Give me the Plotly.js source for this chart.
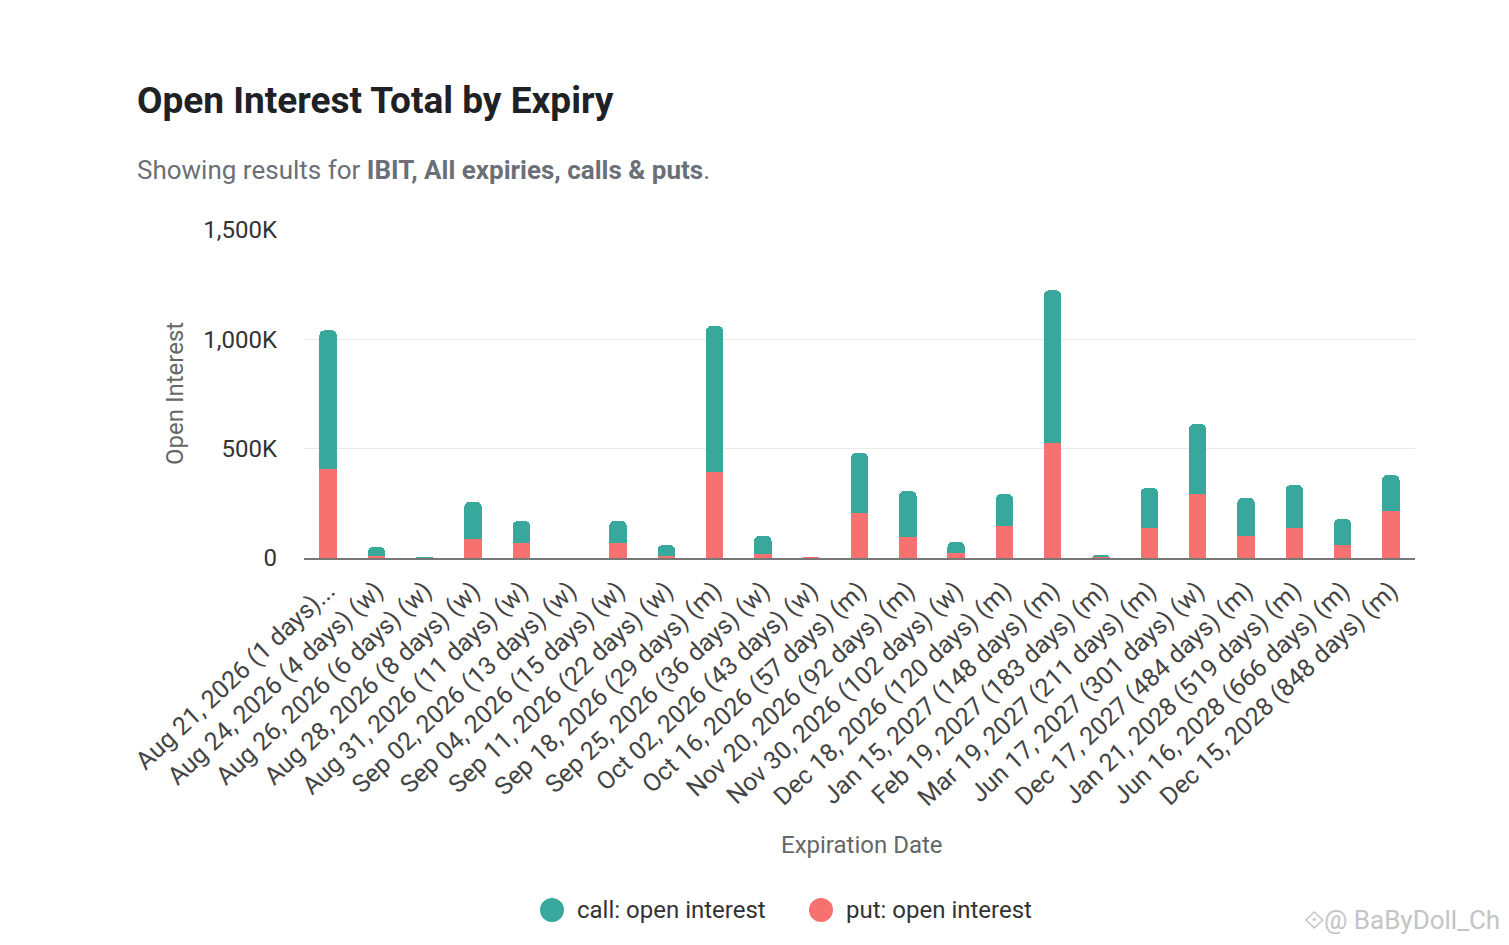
<!DOCTYPE html>
<html>
<head>
<meta charset="utf-8">
<script src="https://cdn.plot.ly/plotly-3.0.1.min.js"></script>
<style>html,body{margin:0;padding:0;background:#fff;}#chart{width:1509px;height:945px;}</style>
</head>
<body>
<div id="chart"></div>
<script>
const categories = [
  "Aug 21, 2026 (1 days)...", "Aug 24, 2026 (4 days) (w)", "Aug 26, 2026 (6 days) (w)",
  "Aug 28, 2026 (8 days) (w)", "Aug 31, 2026 (11 days) (w)", "Sep 02, 2026 (13 days) (w)",
  "Sep 04, 2026 (15 days) (w)", "Sep 11, 2026 (22 days) (w)", "Sep 18, 2026 (29 days) (m)",
  "Sep 25, 2026 (36 days) (w)", "Oct 02, 2026 (43 days) (w)", "Oct 16, 2026 (57 days) (m)",
  "Nov 20, 2026 (92 days) (m)", "Nov 30, 2026 (102 days) (w)", "Dec 18, 2026 (120 days) (m)",
  "Jan 15, 2027 (148 days) (m)", "Feb 19, 2027 (183 days) (m)", "Mar 19, 2027 (211 days) (m)",
  "Jun 17, 2027 (301 days) (w)", "Dec 17, 2027 (484 days) (m)", "Jan 21, 2028 (519 days) (m)",
  "Jun 16, 2028 (666 days) (m)", "Dec 15, 2028 (848 days) (m)"
];
const putOI = [406000, 10000, 2000, 87000, 68000, 1000, 68000, 8000, 393000, 20000, 3000, 206000,
  96000, 23000, 146000, 525000, 5000, 137000, 292000, 100000, 137000, 59000, 215000];
const callOI = [635000, 40000, 3000, 169000, 101000, 1000, 101000, 51000, 667000, 80000, 2000, 274000,
  210000, 50000, 146000, 699000, 7000, 183000, 320000, 174000, 196000, 119000, 164000];
const yTickVals = [0, 500000, 1000000, 1500000];
const yTickText = ["0", "500K", "1,000K", "1,500K"];
const legendNames = ["call: open interest", "put: open interest"];

const teal = "#38a89d";
const salmon = "#f87171";
const FONT = "Roboto, 'Noto Sans', sans-serif";

const data = [
  {type: "bar", name: legendNames[1], x: categories, y: putOI,
   marker: {color: salmon}, showlegend: false, hoverinfo: "x+y"},
  {type: "bar", name: legendNames[0], x: categories, y: callOI,
   marker: {color: teal}, showlegend: false, hoverinfo: "x+y"}
];

// pixel -> paper helpers for the plot area (l=304, w=1111, t=230, h=328)
const px = v => (v - 304) / 1111;
const py = v => (558 - v) / 328;

const legendItems = [
  {name: legendNames[0], color: teal, cx: 552},
  {name: legendNames[1], color: salmon, cx: 821}
];

const shapes = legendItems.map(it => ({
  type: "circle", xref: "paper", yref: "paper",
  x0: px(it.cx - 12), x1: px(it.cx + 12), y0: py(922), y1: py(898),
  fillcolor: it.color, line: {width: 0}
}));

const annotations = [
  {xref: "paper", yref: "paper", x: px(135), y: py(100),
   xanchor: "left", yanchor: "middle", showarrow: false,
   text: "<b>Open Interest Total by Expiry</b>",
   font: {size: 37, color: "#202124", family: FONT}},
  {xref: "paper", yref: "paper", x: px(135), y: py(170),
   xanchor: "left", yanchor: "middle", showarrow: false,
   text: "Showing results for <b>IBIT, All expiries, calls & puts</b>.",
   font: {size: 26, color: "#6b7078", family: FONT}},
  {xref: "paper", yref: "paper", x: px(175), y: py(394),
   xanchor: "center", yanchor: "middle", showarrow: false, textangle: -90,
   text: "Open Interest", font: {size: 24, color: "#666", family: FONT}},
  {xref: "paper", yref: "paper", x: px(862), y: py(845),
   xanchor: "center", yanchor: "middle", showarrow: false,
   text: "Expiration Date", font: {size: 24, color: "#666", family: FONT}},
  {xref: "paper", yref: "paper", x: px(1302), y: py(920),
   xanchor: "left", yanchor: "middle", showarrow: false,
   text: "⟐@ BaByDoll_Ch", font: {size: 26, color: "#c4c4c4", family: FONT}}
].concat(legendItems.map(it => ({
  xref: "paper", yref: "paper", x: px(it.cx + 23), y: py(910),
  xanchor: "left", yanchor: "middle", showarrow: false,
  text: it.name, font: {size: 24, color: "#333", family: FONT}
})));

const layout = {
  width: 1509, height: 945,
  margin: {l: 304, r: 94, t: 230, b: 387},
  paper_bgcolor: "#ffffff", plot_bgcolor: "#ffffff",
  font: {family: FONT, color: "#444", size: 19},
  barmode: "stack",
  bargap: 0.64,
  barcornerradius: 5,
  showlegend: false,
  xaxis: {
    type: "category",
    range: [-0.5, 22.5],
    tickangle: -43,
    tickfont: {size: 25, color: "#444", family: FONT},
    ticklabelstandoff: 6,
    showgrid: false,
    showline: true, linecolor: "#777", linewidth: 2,
    ticks: "", zeroline: false, fixedrange: true
  },
  yaxis: {
    range: [0, 1500000],
    tickvals: yTickVals, ticktext: yTickText,
    tickfont: {size: 24, color: "#333", family: FONT},
    showgrid: true, gridcolor: "#e9e9e9", gridwidth: 1.5,
    zeroline: false, showline: false, ticks: "",
    ticklabelstandoff: 26, fixedrange: true
  },
  shapes: shapes,
  annotations: annotations
};

Plotly.newPlot("chart", data, layout, {displayModeBar: false, staticPlot: true});
</script>
</body>
</html>
